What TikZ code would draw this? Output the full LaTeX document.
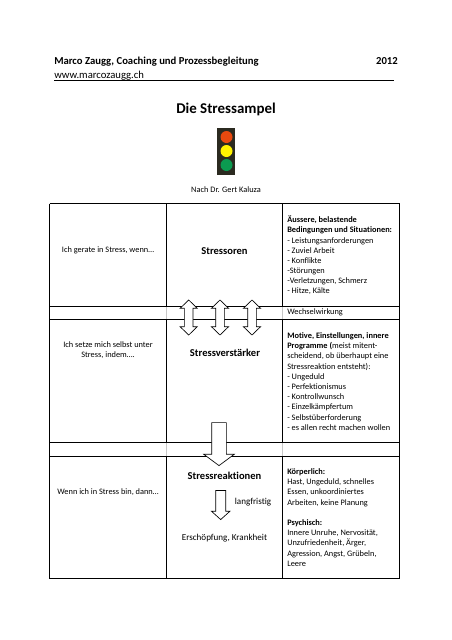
\documentclass[tikz,border=0pt]{standalone}
\usepackage{fontspec}
\setmainfont{Carlito}[Ligatures=CommonOff]
\usetikzlibrary{shapes.arrows}
\definecolor{lampred}{HTML}{E8490F}
\definecolor{lampyellow}{HTML}{FFF200}
\definecolor{lampgreen}{HTML}{0B9A50}
\definecolor{housing}{HTML}{2B2A20}
\tikzset{
  small/.style={font=\fontsize{6.25}{7.63}\selectfont,align=left,inner sep=0pt},
  smallc/.style={small,align=center},
  note/.style={font=\fontsize{6.8}{8}\selectfont,inner sep=0pt},
  head/.style={font=\fontsize{8}{9}\selectfont,inner sep=0pt},
  headb/.style={font=\fontsize{8}{9}\selectfont\bfseries,inner sep=0pt},
  stage/.style={font=\fontsize{7.9}{9}\selectfont\bfseries,inner sep=0pt},
  rule/.style={line width=0.65pt},
  faint/.style={line width=0.65pt,black!22},
  updown/.style={double arrow,draw,fill=white,line width=0.5pt,shape border rotate=90,inner sep=3pt,
    minimum height=26.25pt,double arrow head extend=3.2pt,double arrow tip angle=92},
  downarrow/.style={single arrow,draw,fill=white,line width=0.5pt,shape border rotate=270,anchor=tip}
}
\begin{document}
\begin{tikzpicture}[x=0.75pt,y=-0.75pt]
\useasboundingbox (0,0) rectangle (452,640);
% header
\node[headb,anchor=base west] (author) at (54,64) {Marco Zaugg, Coaching und Prozessbegleitung};
\node[headb,anchor=base east] (year) at (398,64) {2012};
\node[head,anchor=base west] (web) at (54,78) {www.marcozaugg.ch};
\draw[rule] (54,80.5)--(394,80.5);
\node[font=\fontsize{11.2}{13}\selectfont\bfseries,inner sep=0pt,anchor=base] (title) at (226,113) {Die Stressampel};
% ampel
\fill[housing] (217,128) rectangle (235,175);
\fill[lampred] (226.5,137) circle (6);
\fill[lampyellow] (226.5,151) circle (6);
\fill[lampgreen] (226.5,165) circle (6);
\node[small] (source) at (226,189.5) {Nach Dr. Gert Kaluza};
% table
\foreach \x in {166.5,282.5} {
  \draw[faint] (\x,306.5)--(\x,319.5);
  \draw[faint] (\x,442.5)--(\x,456.5);
  \draw[rule] (\x,203.5)--(\x,306.5);
  \draw[rule] (\x,319.5)--(\x,442.5);
  \draw[rule] (\x,456.5)--(\x,578.5);
}
\foreach \y in {203.5,306.5,319.5,442.5,456.5,578.5}
  \draw[rule] (49.5,\y)--(399.5,\y);
\draw[rule] (49.5,203.5)--(49.5,578.5);
\draw[rule] (399.5,203.5)--(399.5,578.5);
% left column
\node[smallc] (wenn) at (108,250.7) {Ich gerate in Stress, wenn…};
\node[smallc] (indem) at (108,350.5) {Ich setze mich selbst unter\\Stress, indem….};
\node[smallc] (dann) at (108,492) {Wenn ich in Stress bin, dann…};
% middle column
\node[stage] (stressoren) at (224.5,250.7) {Stressoren};
\node[stage] (verstaerker) at (225,353) {Stressverstärker};
\node[stage] (reaktionen) at (224.5,475.7) {Stressreaktionen};
\node[note] (lang) at (253,501.7) {langfristig};
\node[note] (folge) at (224.5,538) {Erschöpfung, Krankheit};
% right column
\node[small,anchor=west] (aussen) at (287,255.5) {\textbf{Äussere, belastende}\\\textbf{Bedingungen und Situationen:}\\- Leistungsanforderungen\\- Zuviel Arbeit\\- Konflikte\\-Störungen\\-Verletzungen, Schmerz\\- Hitze, Kälte};
\node[small,anchor=west] (wechsel) at (287,312.5) {Wechselwirkung};
\node[small,anchor=west] (motive) at (287,381.5) {\textbf{Motive, Einstellungen, innere}\\\textbf{Programme (}meist mitent-\\scheidend, ob überhaupt eine\\Stressreaktion entsteht):\\- Ungeduld\\- Perfektionismus\\- Kontrollwunsch\\- Einzelkämpfertum\\- Selbstüberforderung\\- es allen recht machen wollen};
\node[small,anchor=west] (koerper) at (287,517.5) {\textbf{Körperlich:}\\Hast, Ungeduld, schnelles\\Essen, unkoordiniertes\\Arbeiten, keine Planung\\[7.63pt]\textbf{Psychisch:}\\Innere Unruhe, Nervosität,\\Unzufriedenheit, Ärger,\\Agression, Angst, Grübeln,\\Leere};
% arrows
\foreach \x/\n in {188.7/a,220/b,252/c}
  \node[updown] (wirk\n) at (\x,317.5) {};
\node[downarrow,inner sep=5.25pt,minimum height=32.25pt,single arrow head extend=6pt,single arrow tip angle=107] (gross) at (219,466) {};
\node[downarrow,inner sep=3.5pt,minimum height=21.75pt,single arrow head extend=3.2pt,single arrow tip angle=96] (klein) at (220.7,520) {};
\end{tikzpicture}
\end{document}
